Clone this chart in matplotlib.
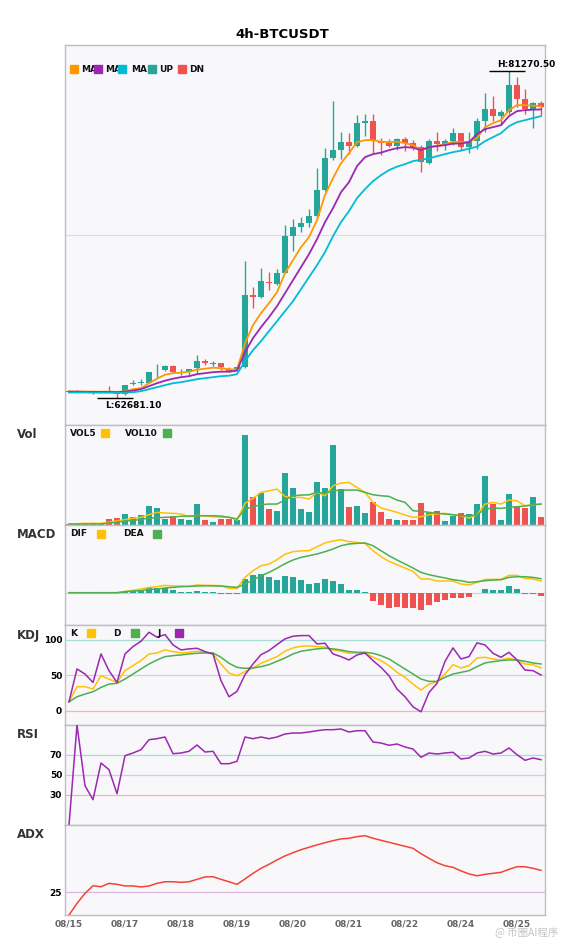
import matplotlib
matplotlib.use('Agg')
import matplotlib.pyplot as plt
from matplotlib.patches import Rectangle
import numpy as np

# ---- data (60 x 4h candles) ----
opens = [63062, 63034, 63062, 63040, 63010, 63050, 63062, 62892, 63443, 63500,
         63535, 64190, 64257, 64502, 64130, 64143, 64354, 64786, 64620, 64638,
         64331, 64314, 64445, 68525, 68428, 69281, 69151, 69794, 71899, 72411,
         72639, 73020, 74499, 76320, 76775, 77230, 77020, 78311, 78425, 77287,
         77156, 76985, 77401, 77156, 76928, 76018, 77287, 77134, 77287, 77760,
         76963, 77304, 78425, 79108, 78727, 78955, 80474, 79677, 79108, 79467]
highs = [63119, 63119, 63090, 63062, 63090, 63347, 63090, 63440, 63671, 63728,
         64170, 64598, 64530, 64530, 64331, 64350, 65111, 64866, 64752, 64670,
         64411, 64480, 70459, 68997, 70044, 69816, 70004, 72508, 72849, 72963,
         73435, 75751, 76872, 79563, 77816, 77760, 78767, 78824, 78824, 77441,
         77384, 77441, 77498, 77344, 77060, 77384, 77816, 77384, 78010, 77760,
         77816, 78596, 80001, 79848, 79051, 81270.5, 80946, 80229, 79525, 79563]
lows = [63005, 63005, 63005, 62892, 62990, 62990, 62681.1, 62830, 63387, 63404,
        63510, 63876, 64230, 64069, 63990, 63990, 64086, 64559, 64485, 64257,
        64143, 64290, 64371, 67768, 68337, 68809, 69094, 69794, 71045, 72126,
        72411, 72906, 74459, 76206, 76246, 76548, 76963, 77571, 76587, 76474,
        76928, 76775, 76735, 76775, 75540, 75962, 76735, 76775, 77060, 76775,
        76622, 76815, 77816, 78425, 78198, 78824, 79239, 78807, 78044, 78767]
closes = [63034, 63062, 63040, 63010, 63050, 63020, 62930, 63404, 63500, 63591,
          64143, 64217, 64502, 64160, 64160, 64314, 64769, 64638, 64650, 64411,
          64217, 64428, 68525, 68428, 69321, 69190, 69776, 71882, 72394, 72622,
          73020, 74499, 76320, 76775, 77230, 77020, 78311, 78425, 77344, 77156,
          76985, 77384, 77156, 76928, 76075, 77287, 77134, 77287, 77760, 76963,
          77304, 78425, 79108, 78727, 78955, 80474, 79677, 79108, 79467, 79205]

ma5 = [63045, 63045, 63045, 63034, 63034, 63034, 63022, 63062, 63176, 63233,
       63517, 63773, 64001, 64086, 64115, 64172, 64286, 64342, 64399, 64371,
       64314, 64286, 65793, 66818, 67500, 68070, 68695, 69776, 70516, 71256,
       71825, 72792, 74215, 75182, 76035, 76604, 77230, 77344, 77344, 77259,
       77230, 77259, 77173, 77060, 76775, 76946, 77031, 77116, 77248, 77230,
       77248, 77458, 78084, 78311, 78482, 79051, 79336, 79336, 79307, 79279]
ma10 = [63034, 63034, 63022, 63022, 63017, 63017, 63005, 63034, 63091, 63176,
        63347, 63517, 63660, 63773, 63859, 63916, 64030, 64086, 64143, 64172,
        64172, 64229, 65281, 66078, 66704, 67273, 67897, 68638, 69378, 70118,
        70858, 71711, 72679, 73475, 74385, 74954, 75865, 76377, 76548, 76633,
        76775, 76889, 76946, 76917, 76775, 76946, 77003, 77060, 77145, 77156,
        77230, 77685, 77970, 78084, 78198, 78710, 78995, 79051, 79080, 79091]
ma20 = [62988, 62988, 62988, 62977, 62977, 62977, 62966, 62977, 63005, 63062,
        63176, 63290, 63404, 63517, 63574, 63660, 63745, 63802, 63859, 63916,
        63944, 64030, 64769, 65395, 65907, 66476, 67045, 67614, 68183, 68866,
        69549, 70231, 70971, 71882, 72679, 73304, 74044, 74556, 75011, 75352,
        75637, 75836, 75979, 76149, 76234, 76303, 76434, 76548, 76661, 76747,
        76860, 76974, 77287, 77515, 77742, 78141, 78368, 78482, 78596, 78710]

volume = [100, 230, 70, 70, 200, 630, 730, 1130, 830, 1030,
          1930, 1730, 570, 870, 630, 530, 2130, 530, 330, 630,
          630, 530, 9030, 2830, 3230, 1630, 1430, 5230, 3730, 1630,
          1330, 4330, 3730, 8030, 3630, 1830, 1930, 1230, 2330, 1330,
          630, 530, 530, 530, 2230, 1230, 1430, 430, 930, 1230,
          1100, 2130, 4930, 2130, 530, 3130, 1930, 1730, 2830, 830]
vol5 = [100, 130, 170, 170, 170, 270, 430, 530, 670, 770,
        1030, 1270, 1200, 1170, 1100, 830, 970, 900, 830, 770,
        770, 500, 2170, 2670, 3270, 3430, 3600, 2850, 2770, 2770,
        2600, 3270, 2930, 3930, 4200, 4270, 3770, 3270, 2270, 1700,
        1500, 1270, 1000, 770, 830, 1030, 1100, 1170, 1030, 930,
        700, 1030, 2100, 2270, 2100, 2500, 2430, 1930, 2030, 2100]
vol10 = [100, 100, 100, 100, 100, 200, 270, 400, 470, 550,
         700, 730, 770, 800, 870, 900, 930, 930, 930, 900,
         770, 600, 1600, 1830, 2030, 2100, 2100, 2500, 2930, 3000,
         3030, 3270, 3170, 3430, 3500, 3500, 3500, 3270, 3030, 2930,
         2870, 2500, 2270, 1430, 1370, 1270, 1170, 1100, 1030, 930,
         930, 1030, 1600, 1700, 1670, 1770, 1830, 1900, 2030, 2100]

macd_hist = [0, 0, 0, 0, 14, 0, 0, 40, 60, 60,
             100, 100, 100, 60, 20, 20, 40, 20, 20, -20,
             -34, -34, 280, 360, 380, 320, 260, 340, 320, 260,
             180, 200, 280, 240, 180, 60, 60, 6, -160, -254,
             -314, -294, -314, -314, -354, -254, -194, -154, -100, -114,
             -94, 0, 74, 60, 60, 140, 80, -20, -34, -74]
dif = [0, 0, -6, 0, 0, 0, 0, 26, 46, 74,
       106, 120, 146, 134, 134, 126, 154, 146, 146, 140,
       86, 86, 306, 440, 540, 574, 660, 770, 820, 836,
       840, 920, 994, 1034, 1060, 1020, 1006, 986, 840, 720,
       626, 560, 494, 426, 274, 274, 234, 234, 234, 174,
       154, 206, 266, 266, 266, 346, 346, 286, 274, 234]
dea = [0, 0, 0, 0, 0, 0, 0, 20, 34, 40,
       66, 74, 94, 106, 120, 126, 134, 140, 136, 134,
       120, 106, 174, 254, 340, 406, 490, 580, 654, 706,
       740, 774, 820, 874, 940, 974, 986, 994, 940, 840,
       740, 654, 574, 494, 406, 360, 326, 294, 260, 240,
       206, 220, 240, 254, 260, 306, 320, 320, 306, 280]

k_line = [12.7, 34, 34, 30.7, 49.5, 44.8, 40, 56.6, 63.7, 70.8,
          80.2, 81.6, 85.8, 83.5, 81.6, 82.5, 84, 82.5, 80.2, 66,
          53.3, 49.5, 55.2, 60.4, 67, 71.7, 76.4, 84, 88.7, 91,
          91.5, 90.6, 89.6, 85.8, 84, 81.1, 81.6, 81.1, 75.5, 70.8,
          63.7, 54.2, 47.2, 37.7, 29.2, 37.7, 41, 51.9, 65.1, 60.4,
          63.7, 74.5, 75.5, 73.1, 71.7, 74.5, 70.8, 66, 65.1, 60.4]
d_line = [12.7, 19.8, 23.6, 26.9, 33, 37.7, 38.7, 44.8, 51.9, 59,
          66, 71.7, 76.4, 77.8, 78.8, 80.2, 81.1, 81.6, 81.6, 75.5,
          67, 61.3, 59.9, 60.4, 62.3, 65.1, 69.8, 74.5, 80.2, 84,
          85.8, 87.3, 88.2, 87.3, 85.8, 83.5, 82.5, 82.5, 81.1, 77.8,
          73.1, 66, 59, 51.9, 44.8, 41.5, 41.5, 47.2, 51.9, 54.2,
          56.6, 62.3, 67.5, 69.3, 70.8, 71.7, 71.7, 69.8, 67.5, 66]
j_line = [12.7, 59, 51.9, 40, 80.2, 56.6, 40, 80.2, 90.6, 98.1,
          110.8, 103.8, 107.5, 92.9, 85.8, 87.3, 88.2, 83.5, 80.2, 42.5,
          19.8, 27.4, 50.9, 66, 79.2, 84.9, 93.4, 101.4, 105.2, 106.1,
          106.1, 94.3, 95.3, 80.2, 76.4, 71.7, 78.8, 81.6, 70.8, 61.3,
          49.5, 30.7, 19.8, 5.7, -1.4, 25.9, 38.7, 69.8, 88.7, 73.1,
          76.4, 95.8, 92.9, 81.1, 75.5, 82.5, 71.7, 57.5, 56.6, 50.5]

rsi = [0, 100, 39.3, 25.3, 62, 55.3, 31.3, 69.3, 72, 75.3,
       85.3, 86.3, 88, 71.3, 72, 73.7, 80, 73, 73.7, 61.3,
       61.3, 63.7, 88, 86.3, 88, 86.3, 88, 91, 92, 92,
       93, 94.3, 95.3, 95.3, 96, 93, 94.3, 94.3, 83, 82,
       79.7, 81, 78, 76, 67.7, 72, 71, 72, 72.7, 66,
       67, 72, 73.7, 71, 72, 77, 70.3, 64.7, 67, 65.3]
adx = [13.7, 19.5, 24.5, 28.3, 27.8, 29.5, 29, 28.2, 28.2, 27.7,
       28.2, 29.5, 30.3, 30.3, 30, 30.3, 31.5, 32.7, 32.8, 31.5,
       30.3, 29, 31.7, 34.5, 37, 39, 41.2, 43.2, 44.8, 46.3,
       47.5, 48.7, 49.8, 50.8, 51.7, 52, 52.8, 53.3, 52, 51,
       50, 49, 48, 47, 44.3, 42, 39.8, 38.3, 37.5, 35.7,
       34.2, 33.3, 34, 34.5, 35, 36.5, 37.8, 37.8, 37, 36]

tick_idx = [0, 7, 14, 21, 28, 35, 42, 49, 56]
tick_labels = ['08/15', '08/17', '08/18', '08/19', '08/20', '08/21', '08/22', '08/24', '08/25']

# ---- style ----
TEAL = '#26A69A'
RED = '#EF5350'
BG = '#F8F8FB'
SPINE = '#BDBDC6'
W, H = 565, 950

fig = plt.figure(figsize=(5.65, 9.5), dpi=100)


def fx(x):
    return x / W


def fy(y):
    return 1 - y / H


def panel(top, bottom):
    ax = fig.add_axes([fx(65), fy(bottom), 480 / W, (bottom - top) / H])
    ax.set_facecolor(BG)
    for s in ax.spines.values():
        s.set_color(SPINE)
        s.set_linewidth(1)
    ax.set_xlim(-0.5, 59.5)
    ax.set_xticks([])
    ax.set_yticks([])
    ax.tick_params(axis='y', length=0, pad=2, labelsize=6.5)
    return ax


def yticks(ax, vals):
    ax.set_yticks(vals)
    ax.set_yticklabels([str(v) for v in vals], fontweight='bold')


def legend(items, yc):
    for tx, label, sx, color in items:
        fig.text(fx(tx), fy(yc), label, ha='left', va='center',
                 fontsize=6.5, fontweight='bold', color='#111111')
        fig.add_artist(Rectangle((fx(sx), fy(yc + 4)), 8 / W, 8 / H,
                                 transform=fig.transFigure, color=color, zorder=5))


def side_label(text, yc):
    fig.text(fx(17), fy(yc), text, ha='left', va='center', fontsize=8.5,
             fontweight='bold', color='#333333')


x = np.arange(len(opens))
o = np.array(opens)
c = np.array(closes)
hi = np.array(highs)
lo = np.array(lows)
colors = np.where(c >= o, TEAL, RED)

# ---- price panel ----
ax = panel(45, 425)
rng = hi.max() - lo.min()
ax.set_ylim(lo.min() - 0.083 * rng, hi.max() + 0.08 * rng)
ymid = sum(ax.get_ylim()) / 2
ax.axhline(ymid, color='#DCDCE6', lw=0.8, zorder=1)
ax.vlines(x, lo, hi, color=colors, lw=1, zorder=2)
ax.bar(x, np.maximum(np.abs(c - o), 45), bottom=np.minimum(o, c), width=0.75,
       color=colors, zorder=3)
ax.plot(x, ma5, color='#FF9800', lw=1.3, zorder=4)
ax.plot(x, ma10, color='#9C27B0', lw=1.3, zorder=4)
ax.plot(x, ma20, color='#00BCD4', lw=1.3, zorder=4)

ih = int(np.argmax(hi))
il = int(np.argmin(lo))
ax.hlines(hi[ih], ih - 2.5, ih + 2, color='black', lw=1, zorder=5)
ax.annotate(f'H:{hi[ih]:.2f}', (ih - 1.5, hi[ih]), xytext=(0, 1.5),
            textcoords='offset points', ha='left', va='bottom', fontsize=6.5,
            fontweight='bold', annotation_clip=False)
ax.hlines(lo[il], il - 2.5, il + 2, color='black', lw=1, zorder=5)
ax.annotate(f'L:{lo[il]:.2f}', (il - 1.5, lo[il]), xytext=(0, -2),
            textcoords='offset points', ha='left', va='top', fontsize=6.5,
            fontweight='bold', annotation_clip=False)

legend([(81, 'MA', 70, '#FF9800'), (105, 'MA', 94, '#9C27B0'),
        (131, 'MA', 118, '#00BCD4'), (159, 'UP', 148, TEAL),
        (189, 'DN', 178, RED)], 69)

fig.text(0.5, fy(34), '4h-BTCUSDT', ha='center', va='center', fontsize=9.5,
         fontweight='bold')

# ---- volume ----
ax = panel(425, 525)
ax.bar(x, volume, width=0.75, color=colors, zorder=2)
ax.plot(x, vol5, color='#FFC107', lw=1.1, zorder=3)
ax.plot(x, vol10, color='#4CAF50', lw=1.1, zorder=3)
ax.set_ylim(0, max(volume) * 1.11)
side_label('Vol', 435)
legend([(70, 'VOL5', 101, '#FFC107'), (125, 'VOL10', 163, '#4CAF50')], 433)

# ---- MACD ----
ax = panel(525, 625)
hist = np.array(macd_hist)
ax.bar(x, hist, width=0.75, color=np.where(hist >= 0, TEAL, RED), zorder=2)
ax.axhline(0, color='#D0D0D6', lw=0.8, zorder=1)
ax.plot(x, dif, color='#FFC107', lw=1.1, zorder=3)
ax.plot(x, dea, color='#4CAF50', lw=1.1, zorder=3)
ax.set_ylim(-646, 1354)
side_label('MACD', 535)
legend([(70, 'DIF', 97, '#FFC107'), (123, 'DEA', 153, '#4CAF50')], 533.5)

# ---- KDJ ----
ax = panel(625, 725)
ax.axhline(100, color='#A8DCD4', lw=0.9, zorder=1)
ax.axhline(50, color='#D0D0D6', lw=0.9, zorder=1)
ax.axhline(0, color='#F6B3B3', lw=0.9, zorder=1)
ax.plot(x, k_line, color='#FFC107', lw=1.1, zorder=3)
ax.plot(x, d_line, color='#4CAF50', lw=1.1, zorder=3)
ax.plot(x, j_line, color='#9C27B0', lw=1.1, zorder=3)
ax.set_ylim(-20, 121)
yticks(ax, [0, 50, 100])
side_label('KDJ', 635)
legend([(70, 'K', 87, '#FFC107'), (113, 'D', 131, '#4CAF50'),
        (157, 'J', 175, '#9C27B0')], 633)

# ---- RSI ----
ax = panel(725, 825)
ax.axhline(70, color='#A8DCD4', lw=0.9, zorder=1)
ax.axhline(50, color='#D0D0D6', lw=0.9, zorder=1)
ax.axhline(30, color='#F6B3B3', lw=0.9, zorder=1)
ax.plot(x, rsi, color='#9C27B0', lw=1.1, zorder=3)
ax.set_ylim(0, 100)
yticks(ax, [30, 50, 70])
side_label('RSI', 735)

# ---- ADX ----
ax = panel(825, 915)
ax.axhline(25, color='#D9B8E2', lw=0.9, zorder=1)
ax.plot(x, adx, color='#F44336', lw=1.1, zorder=3)
ax.set_ylim(min(adx), max(adx) * 1.1)
yticks(ax, [25])
side_label('ADX', 835)
ax.set_xticks(tick_idx)
ax.set_xticklabels(tick_labels, fontsize=6.5, fontweight='bold', color='#666666')
ax.tick_params(axis='x', length=0, pad=3)

fig.text(fx(558), fy(933), '@ 币圈AI程序', ha='right', va='center', fontsize=7.5,
         color='#C4C4C4', family=['Noto Sans CJK SC', 'DejaVu Sans'])

fig.savefig('out.png', dpi=100, facecolor='white')
